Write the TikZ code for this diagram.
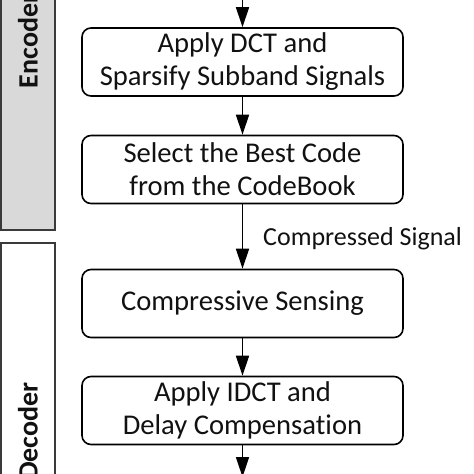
\documentclass[tikz,border=0pt]{standalone}
\usepackage{fontspec}
\setmainfont{Carlito}[Ligatures=NoCommon]
\usetikzlibrary{arrows.meta}
\definecolor{txt}{HTML}{111111}
\definecolor{barfill}{HTML}{D9D9D9}
\definecolor{barline}{HTML}{3A3A3A}
\tikzset{
  stepbox/.style={draw=black, line width=1.6pt, rounded corners=9pt, minimum width=321pt,
    minimum height=68pt, align=center, text=txt, font=\fontsize{28.6}{33}\selectfont, inner sep=0pt},
  flow/.style={draw=black, line width=1.6pt, -{Triangle[width=13pt,length=20pt]}},
  bar/.style={draw=barline, line width=1.8pt},
  barlabel/.style={rotate=90, text=txt, font=\fontsize{28}{33}\selectfont\bfseries},
  edgelabel/.style={text=txt, font=\fontsize{26}{30}\selectfont, anchor=base west, inner sep=0pt}
}
\begin{document}
\begin{tikzpicture}[x=1pt, y=-1pt]
\useasboundingbox (0,0) rectangle (474,474);
\clip (0,0) rectangle (474,474);
% side bars
\draw[bar, fill=barfill] (1,-10) rectangle (55,230);
\draw[bar, fill=white] (1,243) rectangle (55,490);
\node[barlabel] (enc) at (28,41) {Encoder};
\node[barlabel] (dec) at (28,431) {Decoder};
% boxes
\node[stepbox] (b1) at (242.5,62) {Apply DCT and\\Sparsify Subband Signals};
\node[stepbox] (b2) at (242.5,169.5) {Select the Best Code\\from the CodeBook};
\node[stepbox] (b3) at (242.5,303.5) {Compressive Sensing};
\node[stepbox] (b4) at (242.5,410.5) {Apply IDCT and\\Delay Compensation};
% free ends
\coordinate (top) at (b1.north |- 0,-10);
\coordinate (bot) at (b4.south |- 0,477);
% connectors
\draw[flow] (top) -- (b1.north);
\draw[flow] (b1) -- (b2);
\draw[flow] (b2) -- (b3);
\draw[flow] (b3) -- (b4);
\draw[flow] (b4) -- (bot);
\node[edgelabel] (lbl) at (263,245) {Compressed Signal};
\end{tikzpicture}
\end{document}
